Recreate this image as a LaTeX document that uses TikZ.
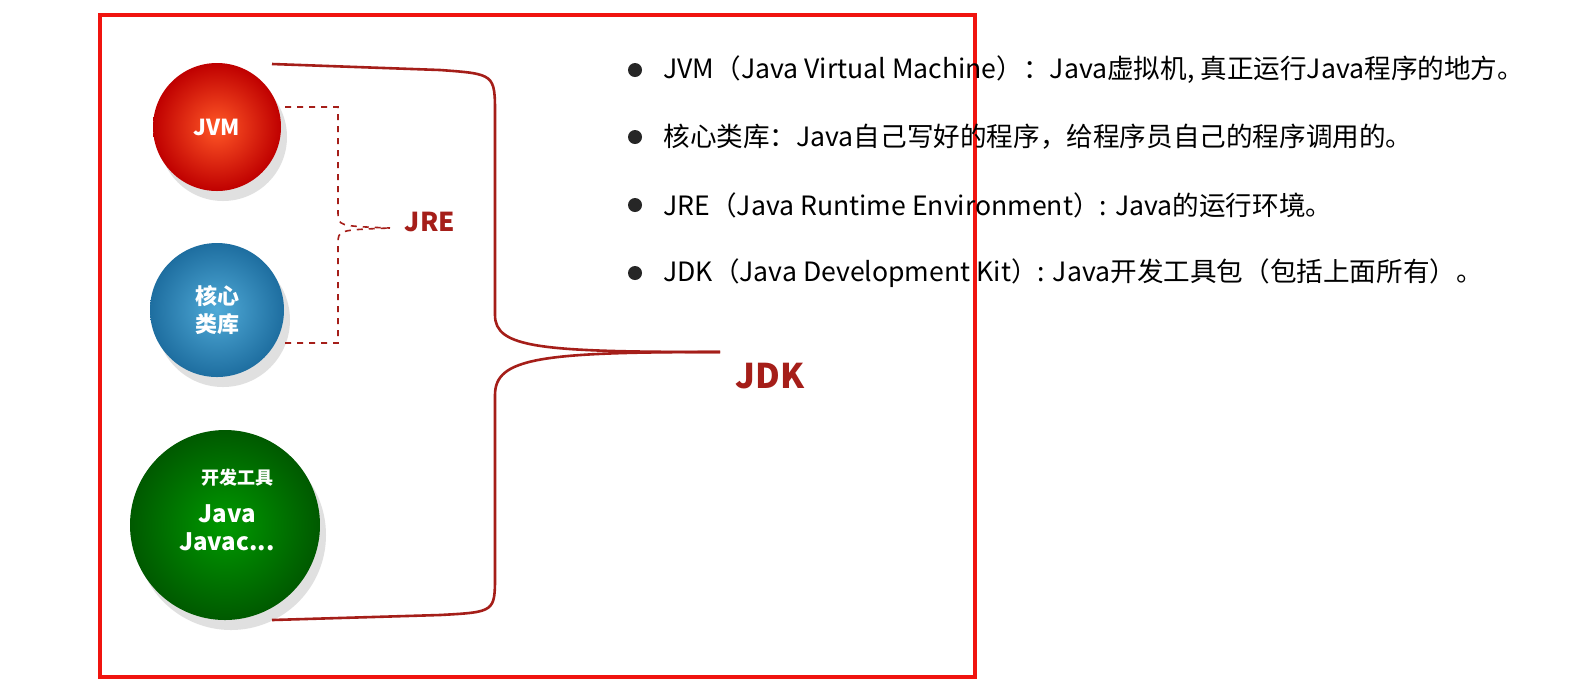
\documentclass[tikz,border=0pt]{standalone}
\usepackage{fontspec}
\setmainfont{Noto Sans CJK SC}
\usetikzlibrary{shadows}
\definecolor{dred}{RGB}{165,30,25}
\definecolor{boxred}{RGB}{240,20,15}
\definecolor{tealA}{RGB}{80,170,215}
\definecolor{tealB}{RGB}{30,110,160}
\tikzset{
  ball/.style={circle,minimum size=#1,inner sep=0pt,text=white,font=\bfseries\fontsize{11}{14}\selectfont,align=center,
    drop shadow={shadow xshift=3pt,shadow yshift=-5pt,fill=black!60,opacity=0.2}},
  brace/.style={draw=dred,line width=1.3pt},
  jre/.style={draw=dred,line width=0.8pt,dashed},
  bul/.style={anchor=west,font=\fontsize{13.3}{16}\selectfont,inner sep=0pt},
  dot/.style={circle,fill=black!85,minimum size=7pt,inner sep=0pt}
}
\begin{document}
\begin{tikzpicture}[x=0.5pt,y=-0.5pt]
\fill[white] (0,0) rectangle (1593,698);
\node[ball=64pt,shade,inner color=red!55!orange!85,outer color=red!75!black] (jvm) at (217,127) {JVM};
\node[ball=67pt,shade,inner color=tealA,outer color=tealB] (lib) at (217,310) {核心\\类库};
\node[ball=95pt,shade,inner color=green!60!black,outer color=green!35!black] (tools) at (225,525) {};
\node[text=white,font=\bfseries\fontsize{9}{11}\selectfont] (t1) at (237,478) {开发工具};
\node[text=white,font=\bfseries\fontsize{12}{14}\selectfont,align=center] (t2) at (227,528) {Java\\Javac...};
\draw[boxred,line width=2pt] (100,15) rectangle (975,677);
% JRE brace
\coordinate (j1) at (285,107); \coordinate (j2) at (285,343); \coordinate (jm) at (390,228);
\draw[jre] (j1) -- (338,107) -- (338,212) .. controls (338,226) .. (jm);
\draw[jre] (j2) -- (338,343) -- (338,244) .. controls (338,230) .. (jm);
\node[font=\bfseries\fontsize{13}{15}\selectfont,text=dred] (jre) at (430,222) {JRE};
% JDK brace
\coordinate (k1) at (272,64); \coordinate (k2) at (272,620); \coordinate (km) at (720,352);
\draw[brace] (k1) -- (440,70) .. controls (495,74) .. (495,115) -- (495,315) .. controls (495,348) and (540,352) .. (km);
\draw[brace] (k2) -- (440,615) .. controls (495,612) .. (495,575) -- (495,395) .. controls (495,358) and (540,352) .. (km);
\node[font=\bfseries\fontsize{17}{20}\selectfont,text=dred] (jdk) at (770,376) {JDK};
% bullets
\foreach \y/\t [count=\i] in {70/{JVM（Java Virtual Machine）：Java虚拟机, 真正运行Java程序的地方。},
  137/{核心类库：Java自己写好的程序，给程序员自己的程序调用的。},
  205/{JRE（Java Runtime Environment）: Java的运行环境。},
  273/{JDK（Java Development Kit）: Java开发工具包（包括上面所有）。}}{
  \node[dot] (d\i) at (635,\y) {};
  \node[bul] (b\i) at (663,\y) {\t};
}
\pgfresetboundingbox
\useasboundingbox (0,0) rectangle (1593,698);
\end{tikzpicture}
\end{document}
